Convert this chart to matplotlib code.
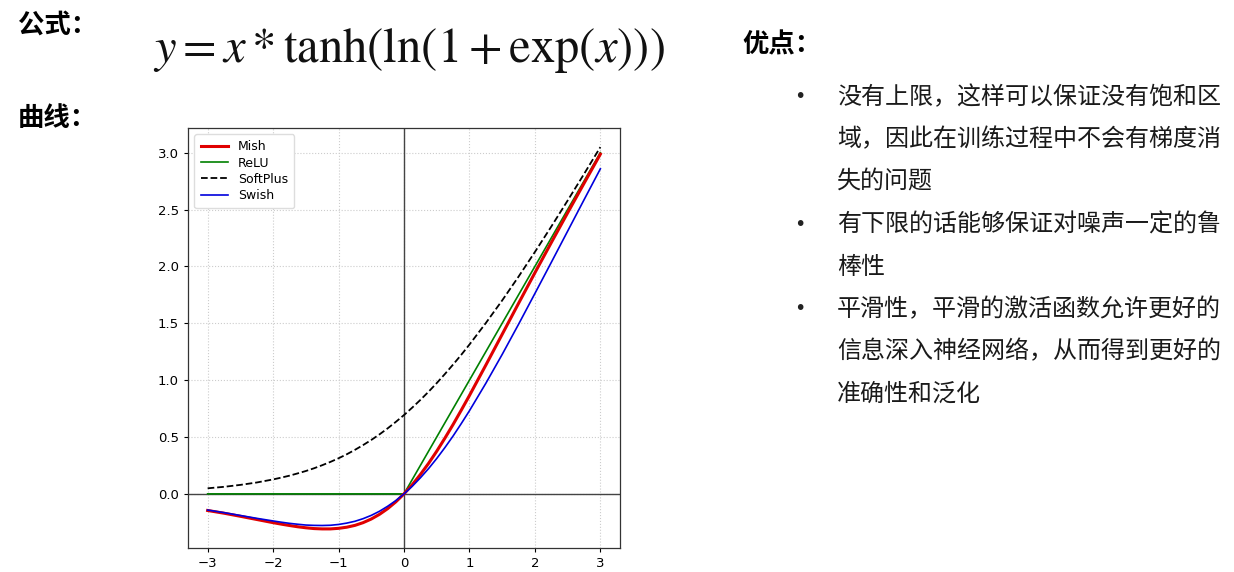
import matplotlib
matplotlib.use("Agg")
import matplotlib.pyplot as plt

plt.rcParams['font.family'] = ['Noto Sans CJK SC', 'DejaVu Sans']
plt.rcParams['mathtext.fontset'] = 'stix'

x_vals = [-3.0, -2.75, -2.5, -2.25, -2.0, -1.875, -1.75, -1.625, -1.5, -1.375, -1.25, -1.125,
          -1.0, -0.875, -0.75, -0.625, -0.5, -0.375, -0.25, -0.125, 0.0, 0.125, 0.25, 0.375,
          0.5, 0.625, 0.75, 0.875, 1.0, 1.25, 1.5, 1.75, 2.0, 2.25, 2.5, 2.75, 3.0]
mish = [-0.146, -0.170, -0.197, -0.225, -0.253, -0.266, -0.278, -0.289, -0.298, -0.305, -0.308, -0.308,
        -0.303, -0.293, -0.277, -0.253, -0.221, -0.180, -0.130, -0.070, 0.0, 0.080, 0.170, 0.268,
        0.375, 0.490, 0.610, 0.736, 0.865, 1.132, 1.403, 1.675, 1.944, 2.209, 2.471, 2.730, 2.987]
softplus = [0.049, 0.062, 0.079, 0.100, 0.127, 0.143, 0.160, 0.180, 0.201, 0.225, 0.252, 0.281,
            0.313, 0.348, 0.387, 0.429, 0.474, 0.523, 0.576, 0.633, 0.693, 0.758, 0.826, 0.898,
            0.974, 1.054, 1.137, 1.223, 1.313, 1.502, 1.701, 1.910, 2.127, 2.350, 2.579, 2.812, 3.049]
swish = [-0.142, -0.165, -0.190, -0.215, -0.238, -0.249, -0.259, -0.267, -0.274, -0.277, -0.278, -0.276,
         -0.269, -0.257, -0.241, -0.218, -0.189, -0.153, -0.109, -0.059, 0.0, 0.066, 0.141, 0.222,
         0.311, 0.407, 0.509, 0.618, 0.731, 0.972, 1.226, 1.491, 1.762, 2.035, 2.310, 2.585, 2.858]
relu_x = [-3.0, 0.0, 3.0]
relu_y = [0.0, 0.0, 3.0]

formula = r'$y = x * \tanh(\ln(1+\exp(x)))$'
heading_formula = '公式：'
heading_curve = '曲线：'
heading_pros = '优点：'
pros_lines = [
    ('•', '没有上限，这样可以保证没有饱和区'),
    ('', '域，因此在训练过程中不会有梯度消'),
    ('', '失的问题'),
    ('•', '有下限的话能够保证对噪声一定的鲁'),
    ('', '棒性'),
    ('•', '平滑性，平滑的激活函数允许更好的'),
    ('', '信息深入神经网络，从而得到更好的'),
    ('', '准确性和泛化'),
]

W, H = 1234, 572
fig = plt.figure(figsize=(W / 100, H / 100), dpi=100)
fig.patch.set_facecolor('white')

ax = fig.add_axes([188 / W, 1 - 548 / H, 432 / W, 420 / H])
ax.axhline(0, color='#444444', linewidth=1.0, zorder=1.8)
ax.axvline(0, color='#444444', linewidth=1.0, zorder=1.8)
ax.plot(x_vals, mish, color='#e00000', linewidth=2.2, label='Mish', zorder=3)
ax.plot(relu_x, relu_y, color='green', linewidth=1.2, label='ReLU', zorder=2)
ax.plot(x_vals, softplus, color='black', linewidth=1.3, linestyle='--', label='SoftPlus', zorder=2)
ax.plot(x_vals, swish, color='#0000dd', linewidth=1.2, label='Swish', zorder=4)
ax.grid(True, linestyle=':', color='#cccccc', linewidth=0.8)
ax.tick_params(labelsize=9.5, length=3)
for lab in ax.get_xticklabels() + ax.get_yticklabels():
    lab.set_family('DejaVu Sans')
for s in ax.spines.values():
    s.set_color('#333333')
    s.set_linewidth(0.9)
ax.legend(loc='upper left', handlelength=2.2, labelspacing=0.25,
          borderpad=0.5, framealpha=1, edgecolor='#dddddd', fancybox=True,
          prop={'family': 'DejaVu Sans', 'size': 9})

# slide texts
fig.text(18 / W, 1 - 25 / H, heading_formula, fontsize=19, fontweight='bold', va='center', ha='left')
fig.text(18 / W, 1 - 118 / H, heading_curve, fontsize=19, fontweight='bold', va='center', ha='left')
fig.text(742 / W, 1 - 45 / H, heading_pros, fontsize=19, fontweight='bold', va='center', ha='left')
fig.text(153 / W, 1 - 50 / H, formula, fontsize=35, va='center', ha='left', color='#111111')

y0, dy = 97, 42.4
for i, (bullet, line) in enumerate(pros_lines):
    y = 1 - (y0 + i * dy) / H
    if bullet:
        fig.text(800 / W, y, bullet, fontsize=14, va='center', ha='center', color='#222222',
                 family='DejaVu Sans')
    fig.text(837 / W, y, line, fontsize=17.3, va='center', ha='left', color='#1a1a1a')

fig.savefig('out.png', dpi=100)
